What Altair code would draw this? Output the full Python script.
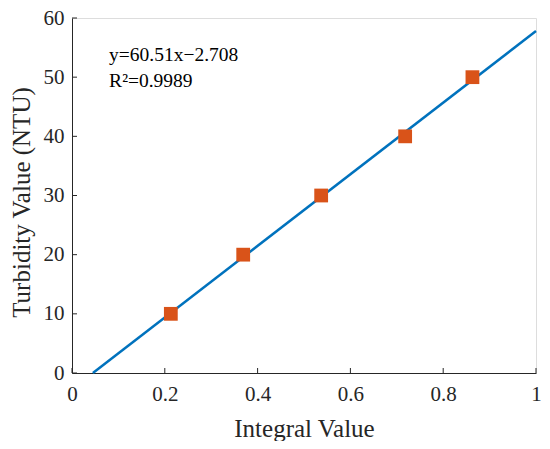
import altair as alt
import pandas as pd

# measured points
integral = [0.213, 0.369, 0.537, 0.718, 0.863]
turbidity = [10, 20, 30, 40, 50]

# fitted line endpoints
fit_x = [0.045, 1.0]
fit_y = [0.0, 57.8]

x_ticks = [0, 0.2, 0.4, 0.6, 0.8, 1.0]
y_ticks = [0, 10, 20, 30, 40, 50, 60]

ann_text = ["y=60.51x\u22122.708", "R\u00b2=0.9989"]
ann_x = [0.08, 0.08]
ann_y = [52.8, 48.4]

FONT = "Liberation Serif"
AX = "#262626"
W, H = 464, 355

pts = pd.DataFrame({"x": integral, "y": turbidity})
fit = pd.DataFrame({"x": fit_x, "y": fit_y})
ann = pd.DataFrame({"t": ann_text, "x": ann_x, "y": ann_y})
xt = pd.DataFrame({"v": x_ticks})
yt = pd.DataFrame({"v": y_ticks})

xs = alt.Scale(domain=[0, 1], nice=False, zero=False)
ys = alt.Scale(domain=[0, 60], nice=False, zero=False)

xaxis = alt.Axis(values=x_ticks, title="Integral Value", grid=False, tickSize=0,
                 labelFont=FONT, labelFontSize=21, labelColor=AX, labelPadding=10,
                 titleFont=FONT, titleFontSize=25, titleFontWeight="normal", titleColor=AX,
                 titlePadding=12, domainColor=AX, labelFlush=False,
                 labelExpr="datum.value == 0 ? '0' : datum.value == 1 ? '1' : format(datum.value, '.1f')")
yaxis = alt.Axis(values=y_ticks, title="Turbidity Value (NTU)", grid=False, tickSize=0,
                 labelFont=FONT, labelFontSize=21, labelColor=AX, labelPadding=8,
                 titleFont=FONT, titleFontSize=25, titleFontWeight="normal", titleColor=AX,
                 titlePadding=9, titleY=184, domainColor=AX, labelFlush=False)

line = alt.Chart(fit).mark_line(color="#0072BD", strokeWidth=2.5).encode(
    x=alt.X("x:Q", scale=xs, axis=xaxis),
    y=alt.Y("y:Q", scale=ys, axis=yaxis),
)

points = alt.Chart(pts).mark_point(shape="square", filled=True, size=190, opacity=1,
                                    color="#D95319").encode(
    x=alt.X("x:Q", scale=xs),
    y=alt.Y("y:Q", scale=ys),
)

xticks = alt.Chart(xt).mark_rule(color=AX, strokeWidth=1).encode(
    x=alt.X("v:Q", scale=xs),
    y=alt.value(H),
    y2=alt.value(H - 5),
)
yticks = alt.Chart(yt).mark_rule(color=AX, strokeWidth=1).encode(
    y=alt.Y("v:Q", scale=ys),
    x=alt.value(0),
    x2=alt.value(5),
)

text = alt.Chart(ann).mark_text(align="left", baseline="alphabetic", font=FONT,
                                fontSize=19.5, color="#000000").encode(
    x=alt.X("x:Q", scale=xs),
    y=alt.Y("y:Q", scale=ys),
    text="t:N",
)

chart = alt.layer(xticks, yticks, line, points, text).properties(
    width=W, height=H,
    autosize=alt.AutoSizeParams(type="none"),
    padding={"left": 64, "top": 10, "right": 6, "bottom": 68},
).configure_view(stroke=AX, strokeWidth=1).configure(background="white")

chart.save("out.html", embed_options={"renderer": "svg", "actions": False})
